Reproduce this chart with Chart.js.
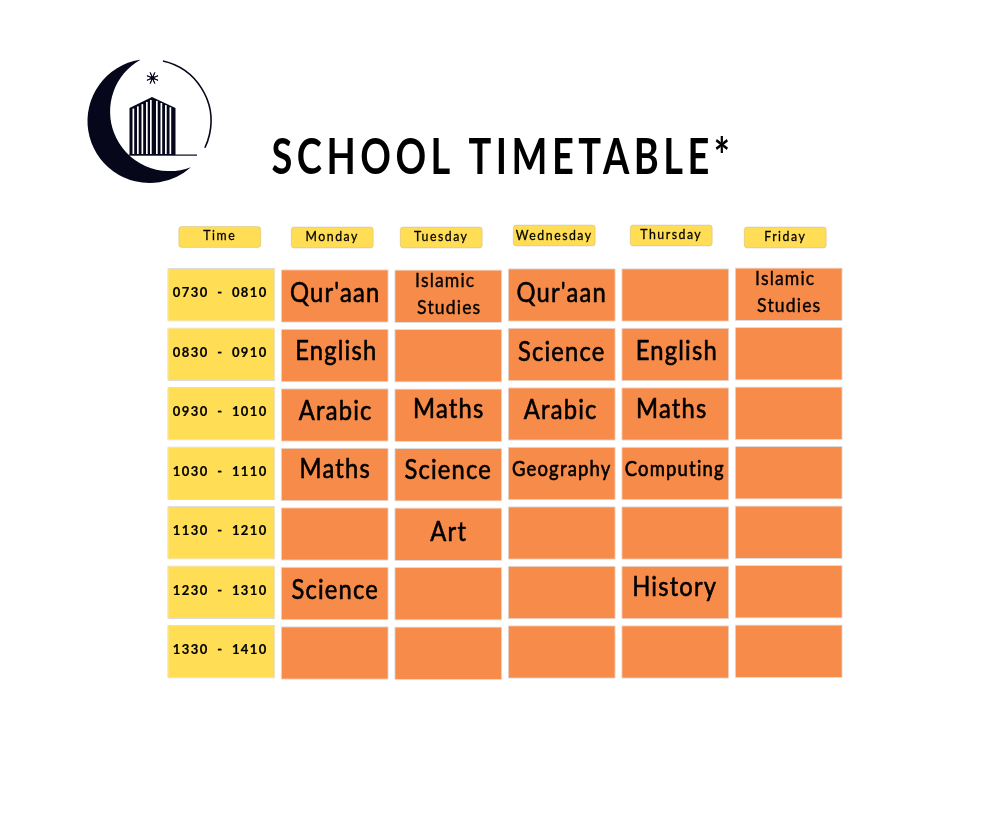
<!DOCTYPE html>
<html>
<head>
<meta charset="utf-8">
<title>School Timetable</title>
<script src="https://cdn.jsdelivr.net/npm/chart.js@4/dist/chart.umd.min.js"></script>
<style>
  html, body { margin: 0; padding: 0; background: #fff; }
  canvas { display: block; }
</style>
</head>
<body>
<canvas id="timetable" width="1000" height="831"></canvas>
<script>
// Timetable data
const columnLabels = ['Time', 'Monday', 'Tuesday', 'Wednesday', 'Thursday', 'Friday'];
const timeSlots = ['0730 - 0810', '0830 - 0910', '0930 - 1010', '1030 - 1110', '1130 - 1210', '1230 - 1310', '1330 - 1410'];
const monday = ["Qur'aan", 'English', 'Arabic', 'Maths', '', 'Science', ''];
const tuesday = ['Islamic Studies', '', 'Maths', 'Science', 'Art', '', ''];
const wednesday = ["Qur'aan", 'Science', 'Arabic', 'Geography', '', '', ''];
const thursday = ['', 'English', 'Maths', 'Computing', '', 'History', ''];
const friday = ['Islamic Studies', '', '', '', '', '', ''];

const columns = [timeSlots, monday, tuesday, wednesday, thursday, friday];

// Look of the page
const FONT = 'Lato, sans-serif';
const ORANGE = '#F68B4A';
const YELLOW = '#FFDD55';
const CELL_EDGE = 'rgba(150,140,130,0.3)';
const LOGO_INK = '#07071c';
const rowGap = 0.05;
const squeeze = 0.88;
const titleSqueeze = 0.76;

// the sheet was laid out by hand, so columns and labels sit a little off the grid
const columnDrift = [0, 0.02, 0.025, 0.005, 0.005, -0.008];
// [tab x, tab y, label y relative to tab]
const headerNudge = [[-1.5, 0, -1.5], [-2.5, 0.5, -1.5], [-7, 0.5, -1.5], [-7.5, -1.5, 0], [-4, -1.5, -1], [-3.5, 0.5, -1.5]];
const textNudge = {
    '1-0': [0.5, -2.2], '1-1': [1.5, -3.7], '1-2': [1, -3.2], '1-3': [0.5, -4.7], '1-5': [0.5, -2.7],
    '2-0': [-1, -1.75], '2-2': [0.5, -6.2], '2-3': [0, -4], '2-4': [0.5, -2.2],
    '3-0': [0, -2.2], '3-1': [0, -2.7], '3-2': [-1, -4.2], '3-3': [0, -4.7],
    '4-1': [1.5, -3.7], '4-2': [-3.5, -5.2], '4-3': [-0.5, -4.7], '4-5': [-0.5, -5.2],
    '5-0': [-1.5, -1.75]
};
const subjectSize = { Geography: 21, Computing: 21, 'Islamic Studies': 20 };

// One floating bar per day in every row
const datasets = timeSlots.map((slot, row) => ({
    label: slot,
    data: columnLabels.map((day, col) => [row + rowGap + columnDrift[col], row + 1 - rowGap + columnDrift[col]]),
    backgroundColor: columnLabels.map((day, col) => (col === 0 ? YELLOW : ORANGE)),
    borderColor: CELL_EDGE,
    borderWidth: 1,
    borderSkipped: false,
    borderRadius: 1,
    barPercentage: 108 / 113.5,
    categoryPercentage: 1,
    grouped: false
}));

// thin stroke on top of the fill gives the rounder, heavier look of the sheet
function writeText(ctx, text, x, y, size, weight, spacing, stroke, narrow) {
    ctx.save();
    ctx.translate(x, y);
    ctx.scale(narrow, 1);
    ctx.font = weight + ' ' + size + 'px ' + FONT;
    ctx.letterSpacing = spacing + 'px';
    ctx.fillText(text, 0, 0);
    if (stroke) {
        ctx.lineWidth = stroke;
        ctx.lineJoin = 'round';
        ctx.strokeStyle = '#000';
        ctx.strokeText(text, 0, 0);
    }
    ctx.restore();
}

const logoPlugin = {
    id: 'logo',
    beforeDraw(chart) {
        const ctx = chart.ctx;
        ctx.save();
        ctx.fillStyle = LOGO_INK;
        ctx.strokeStyle = LOGO_INK;

        // crescent
        ctx.beginPath();
        ctx.arc(149.5, 121, 62, -1.73, 0.84, true);
        ctx.arc(169.6, 111.6, 59.5, 1.207, -2.09, false);
        ctx.closePath();
        ctx.fill();

        // thin ring on the right
        ctx.beginPath();
        ctx.lineWidth = 1.6;
        ctx.arc(149.5, 121, 61.5, -1.35, 0.45);
        ctx.stroke();

        // star
        ctx.lineWidth = 1;
        for (let i = 0; i < 8; i++) {
            const a = i * Math.PI / 4 + Math.PI / 8;
            ctx.beginPath();
            ctx.moveTo(152.5 - Math.cos(a) * 6, 78 - Math.sin(a) * 6);
            ctx.lineTo(152.5 + Math.cos(a) * 6, 78 + Math.sin(a) * 6);
            ctx.stroke();
        }
        ctx.beginPath();
        ctx.arc(152.5, 78, 2.2, 0, Math.PI * 2);
        ctx.fill();

        // building
        ctx.beginPath();
        ctx.moveTo(129.5, 108);
        ctx.lineTo(152, 97);
        ctx.lineTo(175.5, 108);
        ctx.lineTo(175.5, 155);
        ctx.lineTo(129.5, 155);
        ctx.closePath();
        ctx.fill();
        ctx.fillStyle = '#fff';
        [132.5, 137, 141.5, 146, 150, 156, 160.5, 165, 169.5].forEach(x => {
            const roof = x < 152 ? 108 - (x - 129.5) * 0.49 : 97 + (x - 152) * 0.47;
            ctx.fillRect(x, roof + 2, 1.7, 154 - roof - 2);
        });
        ctx.fillStyle = LOGO_INK;
        ctx.fillRect(129, 154.5, 68, 1.2);
        ctx.restore();

        // narrow, spaced title: state is picked up by the title box, undone in beforeDatasetsDraw
        ctx.save();
        ctx.translate(503, 0);
        ctx.scale(titleSqueeze, 1);
        ctx.translate(-500, 0);
        ctx.letterSpacing = '5.9px';
    }
};

const labelPlugin = {
    id: 'labels',
    beforeDatasetsDraw(chart) {
        const ctx = chart.ctx;
        ctx.restore();

        // header tabs sit on the x scale
        const xScale = chart.scales.x;
        ctx.save();
        ctx.textAlign = 'center';
        ctx.textBaseline = 'middle';
        columnLabels.forEach((day, col) => {
            const x = xScale.getPixelForValue(col) + headerNudge[col][0];
            const y = 237 + headerNudge[col][1];
            ctx.beginPath();
            ctx.roundRect(x - 41, y - 10.5, 82, 21, 3);
            ctx.fillStyle = YELLOW;
            ctx.fill();
            ctx.strokeStyle = 'rgba(150,140,130,0.3)';
            ctx.lineWidth = 0.8;
            ctx.stroke();
            ctx.fillStyle = '#000';
            writeText(ctx, day, x, y + headerNudge[col][2], 14, '400', 1.7, 0.3, squeeze);
        });
        ctx.restore();
    },
    afterDatasetsDraw(chart) {
        const ctx = chart.ctx;
        const xScale = chart.scales.x;
        const yScale = chart.scales.y;
        ctx.save();
        ctx.textAlign = 'center';
        ctx.textBaseline = 'middle';
        ctx.fillStyle = '#000';
        columns.forEach((entries, col) => {
            const cx = xScale.getPixelForValue(col);
            entries.forEach((text, row) => {
                if (!text) return;
                const cy = yScale.getPixelForValue(row + 0.5 + columnDrift[col]);
                if (col === 0) {
                    ctx.wordSpacing = '4px';
                    writeText(ctx, text, cx - 1, cy - 1.5, 13, '700', 1.4, 0.2, 1);
                    ctx.wordSpacing = '0px';
                    return;
                }
                const nudge = textNudge[col + '-' + row] || [0, 0];
                const size = subjectSize[text] || 27;
                const words = text.split(' ');
                if (words.length > 1) {
                    writeText(ctx, words[0], cx + nudge[0] - 2, cy + nudge[1] - 13.5, size, '400', 1.3, 0.4, squeeze);
                    writeText(ctx, words[1], cx + nudge[0] + 2, cy + nudge[1] + 13.5, size, '400', 1.3, 0.4, squeeze);
                } else {
                    writeText(ctx, text, cx + nudge[0], cy + nudge[1], size, '400', 1.35, 0.6, squeeze);
                }
            });
        });
        ctx.restore();
    }
};

const timetable = new Chart(document.getElementById('timetable'), {
    type: 'bar',
    data: { labels: columnLabels, datasets: datasets },
    plugins: [logoPlugin, labelPlugin],
    options: {
        responsive: false,
        animation: false,
        layout: { padding: { left: 154.5, right: 154.5, top: 0, bottom: 149.5 } },
        scales: {
            x: { display: false, offset: true },
            y: {
                min: 0,
                max: 7,
                reverse: true,
                // empty axis, keeps the title centred on the page
                ticks: { display: false },
                grid: { display: false },
                border: { display: false },
                afterFit: scale => { scale.width = 10; }
            }
        },
        plugins: {
            legend: { display: false },
            tooltip: { enabled: false },
            title: {
                display: true,
                text: 'SCHOOL TIMETABLE*',
                color: '#000',
                font: { family: FONT, size: 50, weight: '700', lineHeight: 1 },
                padding: { top: 133, bottom: 82 }
            }
        }
    }
});
</script>
</body>
</html>
